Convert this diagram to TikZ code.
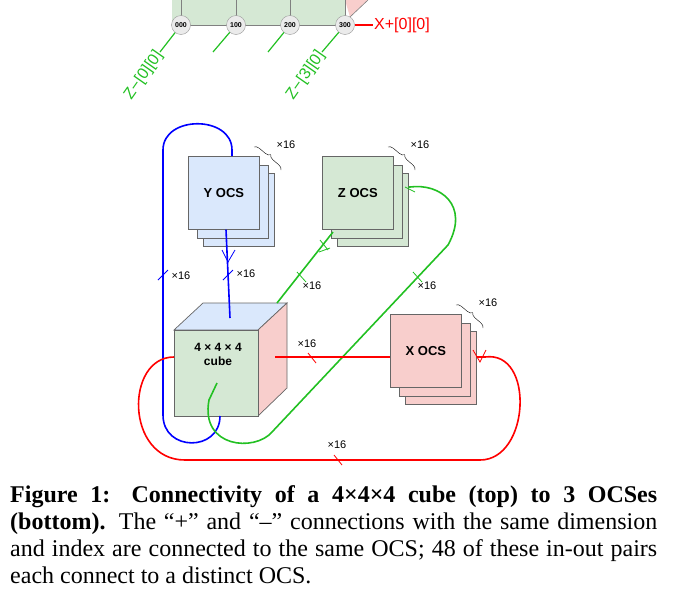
\documentclass[tikz,border=0pt]{standalone}
\usepackage{fontspec}
\setmainfont{Liberation Serif}
\newfontfamily\lsans{Liberation Sans}
\usetikzlibrary{decorations.pathreplacing}
\definecolor{fg}{HTML}{D5E8D4}
\definecolor{fb}{HTML}{DAE8FC}
\definecolor{fr}{HTML}{F8CECC}
\definecolor{lg}{HTML}{22C022}
\begin{document}
\begin{tikzpicture}[x=1pt,y=-1pt,
  ocs/.style={draw=black!60,line width=0.7pt,minimum width=71pt,minimum height=73pt,inner sep=0pt},
  circ/.style={circle,draw=black!40,fill=black!8,minimum size=19pt,inner sep=0pt,font=\lsans\bfseries\fontsize{7}{7}\selectfont},
  mult/.style={font=\lsans\fontsize{11}{11}\selectfont},
  lab/.style={font=\lsans\bfseries\fontsize{13}{13}\selectfont},
  conn/.style={line width=1.6pt},
  tick/.style={line width=0.8pt},
  captxt/.style={anchor=base west,inner sep=0pt,font=\fontsize{24}{28}\selectfont}]
\useasboundingbox (0,0) rectangle (679,600);
% top part
\fill[fg] (172,0) rectangle (345,25);
\fill[fr] (350,17) -- (368,0) -- (345,0) -- cycle;
\draw[black!50,line width=0.6pt] (181,0) -- (181,25) (236,0) -- (236,25) (290,0) -- (290,25) (345,0) -- (345,25) (181,25) -- (345,25);
\draw[black!50,line width=0.6pt] (350,17) -- (368,0);
\node[circ] (c0) at (181,25) {000};
\node[circ] (c1) at (236,25) {100};
\node[circ] (c2) at (290,25) {200};
\node[circ] (c3) at (345,25) {300};
\coordinate (xp) at (373,25);
\draw[red,line width=1.2pt] (c3) -- (xp);
\node[red,anchor=west,font=\lsans\fontsize{16}{16}\selectfont,inner sep=1pt] (xl) at (xp) {X+[0][0]};
\coordinate (z0) at (160,52);
\coordinate (z1) at (213,52);
\coordinate (z2) at (268,52);
\coordinate (z3) at (322,52);
\draw[lg,line width=1.2pt] (c0) -- (z0) (c1) -- (z1) (c2) -- (z2) (c3) -- (z3);
\node[lg,anchor=east,rotate=55,font=\lsans\fontsize{16}{16}\selectfont,inner sep=1pt] (zl0) at (z0) {Z−[0][0]};
\node[lg,anchor=east,rotate=55,font=\lsans\fontsize{16}{16}\selectfont,inner sep=1pt] (zl3) at (z3) {Z−[3][0]};
% OCS stacks
\foreach \n/\x/\y/\c in {Y/188/156/fb, Z/322/156/fg, X/390/314/fr}{
  \node[ocs,fill=\c,anchor=north west] (\n3) at (\x+15,\y+17) {};
  \node[ocs,fill=\c,anchor=north west] (\n2) at (\x+9,\y+9) {};
  \node[ocs,fill=\c,anchor=north west,lab] (\n1) at (\x,\y) {\n\ OCS};
}
\draw[decorate,decoration={brace,amplitude=5pt}] (254,147) -- (281,170);
\node[mult] (my) at (286,145) {×16};
\draw[decorate,decoration={brace,amplitude=5pt}] (388,147) -- (415,170);
\node[mult] (mz) at (420,145) {×16};
\draw[decorate,decoration={brace,amplitude=5pt}] (456,305) -- (483,328);
\node[mult] (mx) at (488,303) {×16};
% cube
\fill[fb,draw=black!60,line width=0.7pt] (174,330) -- (203,303) -- (287,303) -- (258,330) -- cycle;
\fill[fr,draw=black!60,line width=0.7pt] (258,330) -- (287,303) -- (287,388) -- (258,416) -- cycle;
\node[ocs,fill=fg,anchor=north west,minimum width=84pt,minimum height=86pt] (cube) at (174,330) {};
\node[font=\lsans\bfseries\fontsize{12}{14}\selectfont,align=center] (cl) at (218,354) {4 × 4 × 4\\cube};
% blue
\coordinate (ctop) at (230,318);
\coordinate (cbot) at (220,416);
\draw[blue,conn] (Y1.south -| 226,0) -- (ctop);
\draw[blue,conn] (Y1.north -| 232,0) -- (232,150) .. controls (232,115) and (163,115) .. (163,150) -- (163,415) .. controls (163,452) and (220,452) .. (cbot);
\draw[blue,tick] (223,280) -- (233,270) (158,280) -- (168,270);
\draw[blue,line width=0.8pt] (222,250) -- (228,262) -- (235,250);
\node[mult] (b1) at (181,276) {×16};
\node[mult] (b2) at (246,274) {×16};
% green
\coordinate (cz) at (277,303);
\coordinate (cin) at (217,383);
\draw[lg,conn] (333,232) -- (cz);
\draw[lg,conn] (Z3.east |- 0,187) -- (410,187) .. controls (440,183) and (470,205) .. (448,245) -- (272,432) .. controls (255,452) and (200,448) .. (209,400) -- (cin);
\draw[lg,tick] (297,272) -- (306,282) (413,272) -- (422,282);
\draw[lg,line width=0.8pt] (320,240) -- (328,250) (319,252) -- (330,248) (405,187) -- (415,192);
\node[mult] (g1) at (312,286) {×16};
\node[mult] (g2) at (427,286) {×16};
% red
\coordinate (cr) at (275,357);
\coordinate (cl2) at (174,357);
\draw[red,conn] (X1.west |- 0,357) -- (cr);
\draw[red,conn] (X3.east |- 0,357) -- (485,357) .. controls (535,350) and (530,460) .. (480,460) -- (185,460) .. controls (125,460) and (125,357) .. (cl2);
\draw[red,tick] (308,353) -- (316,363) (334,455) -- (342,465);
\draw[red,line width=0.8pt] (473,350) -- (480,362) -- (486,350);
\node[mult] (r1) at (307,344) {×16};
\node[mult] (r2) at (337,445) {×16};
% caption
\node[captxt] (t1) at (10,502) {\makebox[647pt][s]{\bfseries Figure 1: Connectivity of a 4×4×4 cube (top) to 3 OCSes}};
\node[captxt] (t2) at (10,529) {\makebox[647pt][s]{\textbf{(bottom).} The “+” and “–” connections with the same dimension}};
\node[captxt] (t3) at (10,556) {\makebox[647pt][s]{and index are connected to the same OCS; 48 of these in-out pairs}};
\node[captxt] (t4) at (10,583) {each connect to a distinct OCS.};
\end{tikzpicture}
\end{document}
